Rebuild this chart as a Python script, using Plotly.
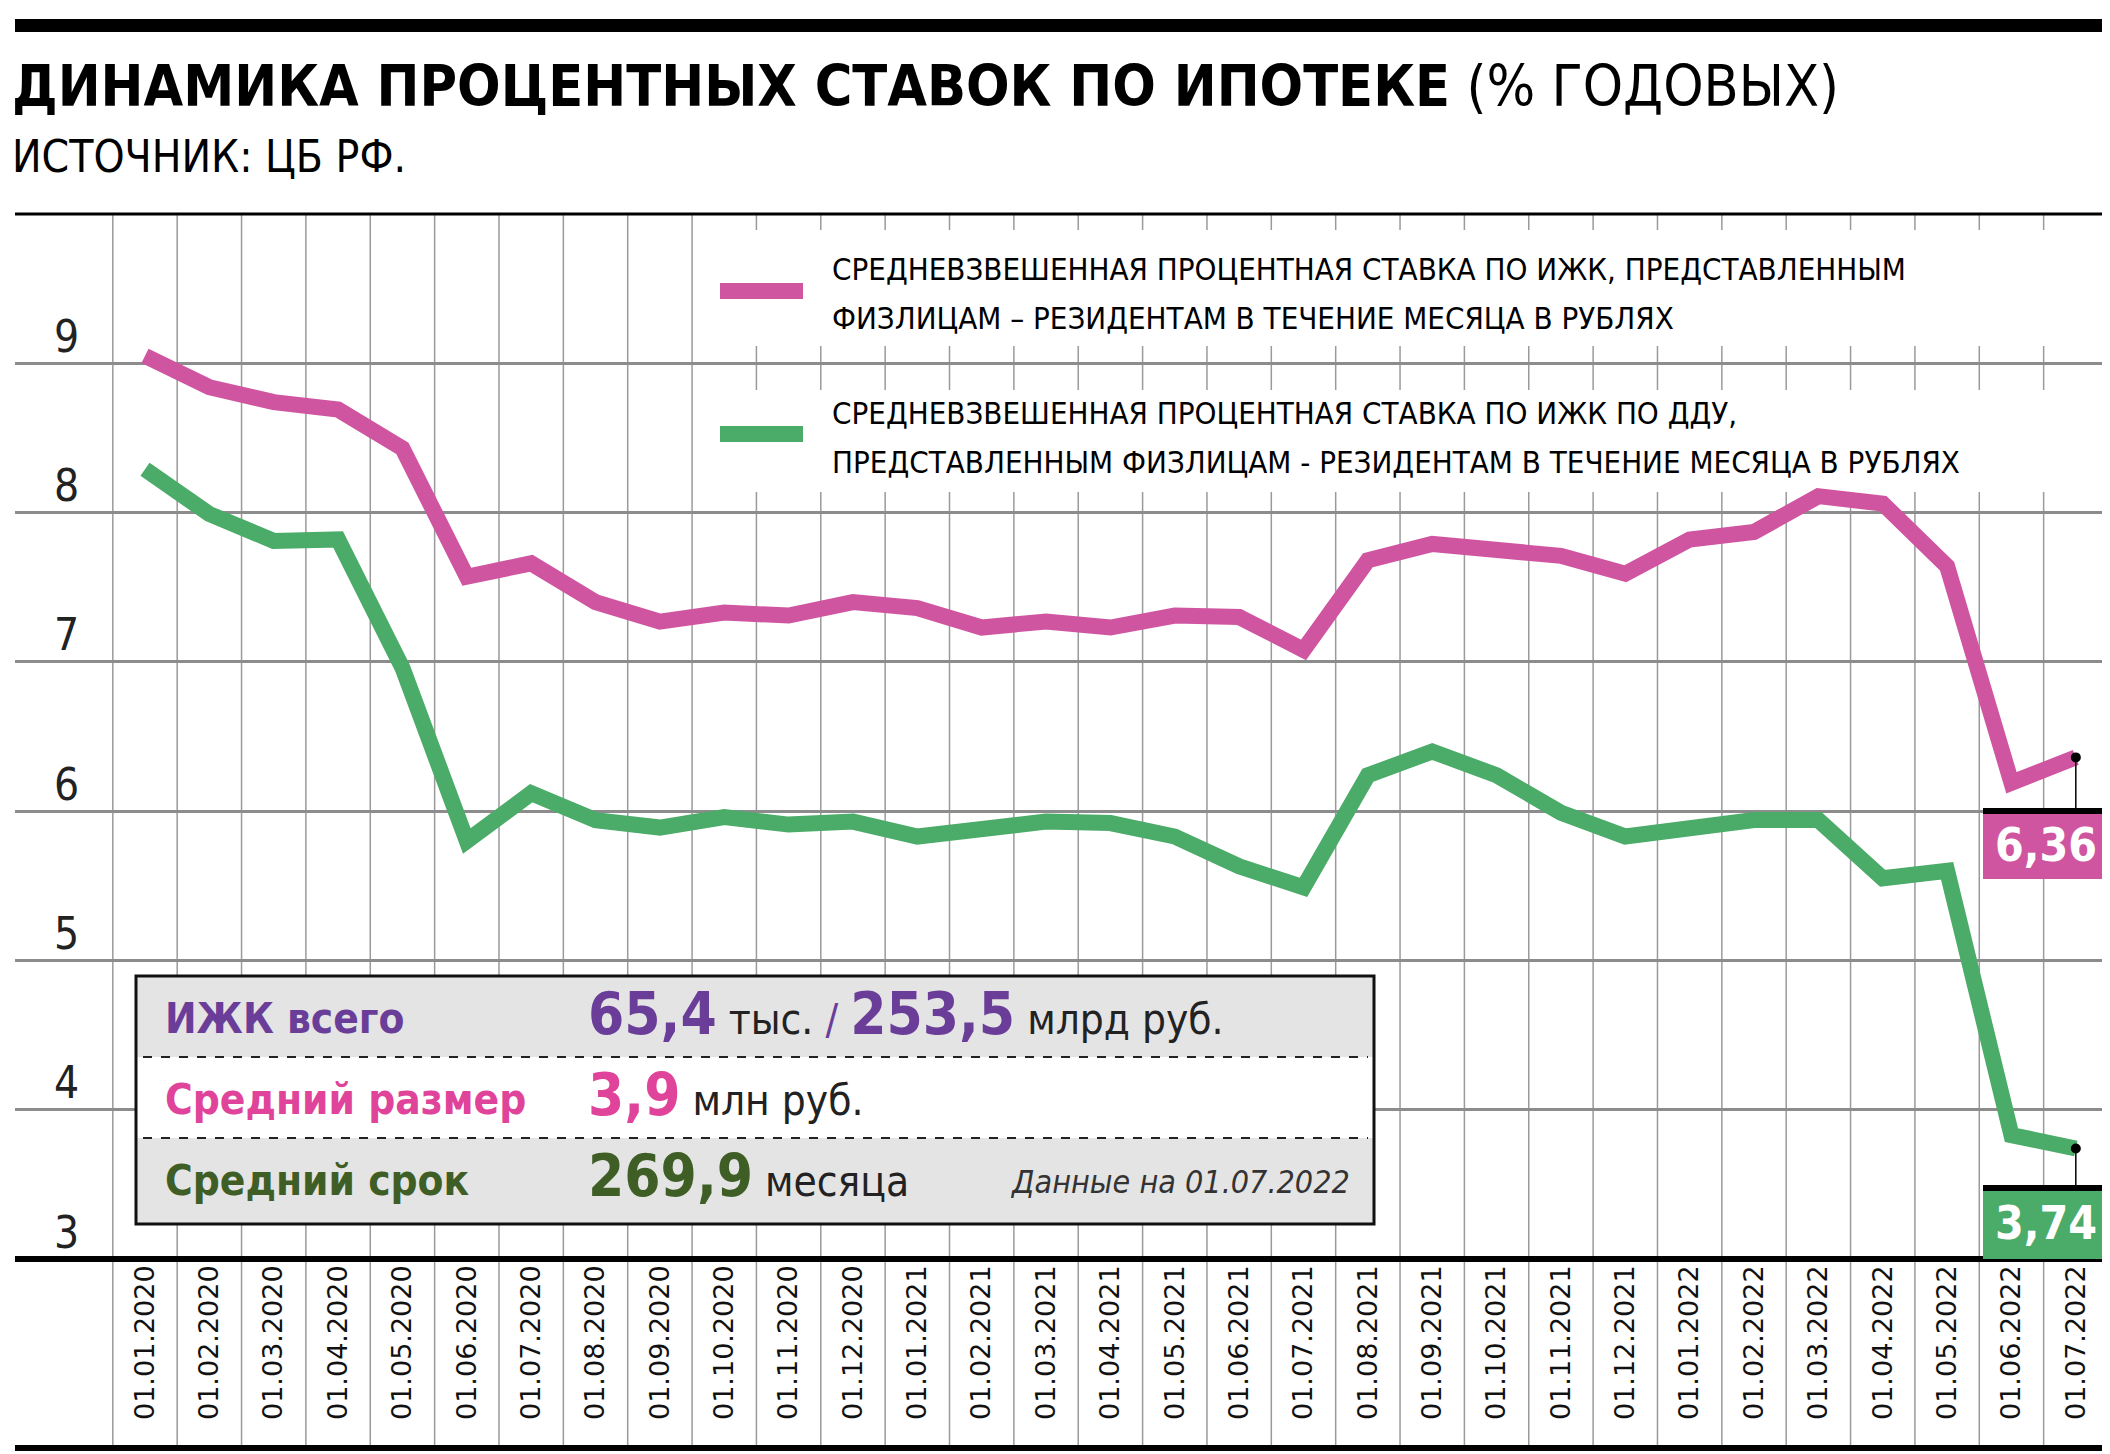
import plotly.graph_objects as go

dates = ["01.01.2020","01.02.2020","01.03.2020","01.04.2020","01.05.2020","01.06.2020","01.07.2020",
         "01.08.2020","01.09.2020","01.10.2020","01.11.2020","01.12.2020","01.01.2021","01.02.2021",
         "01.03.2021","01.04.2021","01.05.2021","01.06.2021","01.07.2021","01.08.2021","01.09.2021",
         "01.10.2021","01.11.2021","01.12.2021","01.01.2022","01.02.2022","01.03.2022","01.04.2022",
         "01.05.2022","01.06.2022","01.07.2022"]
izhk = [9.05,8.84,8.74,8.69,8.43,7.57,7.66,7.40,7.27,7.33,7.31,7.40,7.36,7.23,7.27,7.23,7.31,7.30,
        7.08,7.68,7.79,7.74,7.71,7.59,7.82,7.87,8.11,8.06,7.64,6.19,6.36]
ddu = [8.29,7.99,7.81,7.82,6.96,5.80,6.12,5.94,5.89,5.96,5.91,5.93,5.83,5.87,5.93,5.92,5.83,5.63,
       5.49,6.24,6.40,6.24,5.99,5.83,5.88,5.94,5.94,5.55,5.60,3.83,3.74]
y_ticks = [3,4,5,6,7,8,9]
legend_izhk = ["СРЕДНЕВЗВЕШЕННАЯ ПРОЦЕНТНАЯ СТАВКА ПО ИЖК, ПРЕДСТАВЛЕННЫМ",
               "ФИЗЛИЦАМ – РЕЗИДЕНТАМ В ТЕЧЕНИЕ МЕСЯЦА В РУБЛЯХ"]
legend_ddu = ["СРЕДНЕВЗВЕШЕННАЯ ПРОЦЕНТНАЯ СТАВКА ПО ИЖК ПО ДДУ,",
              "ПРЕДСТАВЛЕННЫМ ФИЗЛИЦАМ - РЕЗИДЕНТАМ В ТЕЧЕНИЕ МЕСЯЦА В РУБЛЯХ"]

PINK = "#d055a0"; GREEN = "#4bab68"
PURPLE = "#6a3e98"; PINK2 = "#e0449a"; DGREEN = "#3f5e26"
W, H = 2110, 1454
T, B = 206, 1251
L, R = 7, 2100
NARROW = "DejaVu Sans Condensed"

def py(px):
    return (B - px) / (B - T)
def pxx(px):
    return (px - L) / (R - L)

x = list(range(len(dates)))
fig = go.Figure()
fig.add_trace(go.Scatter(x=x, y=izhk, mode="lines", line=dict(color=PINK, width=16), hoverinfo="skip"))
fig.add_trace(go.Scatter(x=x, y=ddu, mode="lines", line=dict(color=GREEN, width=16), hoverinfo="skip"))
fig.add_trace(go.Scatter(x=[x[-1], x[-1]], y=[izhk[-1], ddu[-1]], mode="markers",
                         marker=dict(color="black", size=10), hoverinfo="skip"))

shapes = []
for i in range(len(dates) + 1):
    shapes.append(dict(type="line", xref="x", yref="paper", x0=i - 0.5, x1=i - 0.5,
                       y0=py(1440), y1=1, line=dict(color="#9a9a9a", width=1.5), layer="between"))
shapes.append(dict(type="rect", xref="paper", yref="paper", x0=pxx(690), x1=1, y0=py(338), y1=py(222),
                   fillcolor="white", line=dict(width=0), layer="between"))
shapes.append(dict(type="rect", xref="paper", yref="paper", x0=pxx(690), x1=1, y0=py(484), y1=py(382),
                   fillcolor="white", line=dict(width=0), layer="between"))
shapes.append(dict(type="line", xref="paper", yref="paper", x0=pxx(712), x1=pxx(795), y0=py(283), y1=py(283),
                   line=dict(color=PINK, width=16)))
shapes.append(dict(type="line", xref="paper", yref="paper", x0=pxx(712), x1=pxx(795), y0=py(426), y1=py(426),
                   line=dict(color=GREEN, width=16)))
shapes.append(dict(type="rect", xref="paper", yref="paper", x0=0, x1=1, y0=py(24), y1=py(11),
                   fillcolor="black", line=dict(width=0)))
shapes.append(dict(type="line", xref="paper", yref="paper", x0=0, x1=1, y0=1, y1=1, line=dict(color="black", width=3)))
shapes.append(dict(type="line", xref="paper", yref="paper", x0=0, x1=1, y0=0, y1=0, line=dict(color="black", width=6)))
shapes.append(dict(type="line", xref="paper", yref="paper", x0=0, x1=1, y0=py(1440), y1=py(1440),
                   line=dict(color="black", width=6)))
rows = [(968, 1049, "#e4e4e4"), (1049, 1130, "white"), (1130, 1216, "#e4e4e4")]
for y0, y1, c in rows:
    shapes.append(dict(type="rect", xref="paper", yref="paper", x0=pxx(128), x1=pxx(1366), y0=py(y1), y1=py(y0),
                       fillcolor=c, line=dict(width=0)))
for yy in (1049, 1130):
    shapes.append(dict(type="line", xref="paper", yref="paper", x0=pxx(135), x1=pxx(1360), y0=py(yy), y1=py(yy),
                       line=dict(color="#222", width=2, dash="dash")))
shapes.append(dict(type="rect", xref="paper", yref="paper", x0=pxx(128), x1=pxx(1366), y0=py(1216), y1=py(968),
                   line=dict(color="#111", width=3)))
for val, col, top in ((izhk[-1], PINK, 803), (ddu[-1], GREEN, 1180)):
    shapes.append(dict(type="rect", xref="paper", yref="paper", x0=pxx(1975), x1=1.0015, y0=py(top + 68) if top == 803 else 0,
                       y1=py(top), fillcolor=col, line=dict(width=0)))
    shapes.append(dict(type="line", xref="paper", yref="paper", x0=pxx(1975), x1=1.0015, y0=py(top), y1=py(top),
                       line=dict(color="black", width=6)))
    shapes.append(dict(type="line", xref="x", yref="paper", x0=x[-1], x1=x[-1], y0=py(top),
                       y1=(val - 3) / 7, line=dict(color="black", width=1.5)))

ann = []
def A(text, xp, yp, size, color="black", family=NARROW, xanchor="left", yanchor="middle", **kw):
    ann.append(dict(text=text, xref="paper", yref="paper", x=pxx(xp), y=py(yp), showarrow=False,
                    xanchor=xanchor, yanchor=yanchor, font=dict(size=size, color=color, family=family), **kw))

A("<b>ДИНАМИКА ПРОЦЕНТНЫХ СТАВОК ПО ИПОТЕКЕ</b> (% ГОДОВЫХ)", 2, 78, 57)
A("ИСТОЧНИК: ЦБ РФ.", 2, 148, 44)
for i, t in enumerate(legend_izhk):
    A(t, 822, 261 + i * 49, 31)
for i, t in enumerate(legend_ddu):
    A(t, 822, 405 + i * 49, 31)
for v in y_ticks:
    ann.append(dict(text=str(v), xref="paper", yref="y", x=pxx(58), y=v, yshift=27, showarrow=False,
                    xanchor="center", font=dict(size=44, color="#222", family=NARROW)))
def sp(t, c, s=None, b=False):
    st = f"color:{c};" + (f"font-size:{s}px;" if s else "")
    t = f"<b>{t}</b>" if b else t
    return f"<span style='{st}'>{t}</span>"
A("<b>ИЖК всего</b>", 155, 1010, 42, PURPLE)
A(sp("65,4", PURPLE, 58, True) + " " + sp("тыс.", "#222") + " " + sp("/", PURPLE) + " "
  + sp("253,5", PURPLE, 58, True) + " " + sp("млрд руб.", "#222"), 578, 1006, 42)
A("<b>Средний размер</b>", 155, 1091, 42, PINK2)
A(sp("3,9", PINK2, 58, True) + " " + sp("млн руб.", "#222"), 578, 1087, 42)
A("<b>Средний срок</b>", 155, 1172, 42, DGREEN)
A(sp("269,9", DGREEN, 58, True) + " " + sp("месяца", "#222"), 578, 1168, 42)
A("<i>Данные на 01.07.2022</i>", 1344, 1174, 32, "#333", xanchor="right")
A("<b>" + f"{izhk[-1]:.2f}".replace(".", ",") + "</b>", 2038, 837, 46, "white", xanchor="center")
A("<b>" + f"{ddu[-1]:.2f}".replace(".", ",") + "</b>", 2038, 1215, 46, "white", xanchor="center")

fig.update_layout(
    width=W, height=H, margin=dict(l=L, r=W - R, t=T, b=H - B),
    paper_bgcolor="white", plot_bgcolor="white", showlegend=False,
    shapes=shapes, annotations=ann,
    xaxis=dict(range=[-2.02, len(dates) - 0.5], tickvals=x, ticktext=dates, tickangle=-90,
               showgrid=False, zeroline=False, ticks="", showline=False,
               tickfont=dict(family="DejaVu Sans", size=27, color="#111")),
    yaxis=dict(range=[3, 10], tickvals=y_ticks, showticklabels=False, showgrid=True,
               gridcolor="#8c8c8c", gridwidth=3, zeroline=False, showline=False),
)
fig.write_html("out.html")
